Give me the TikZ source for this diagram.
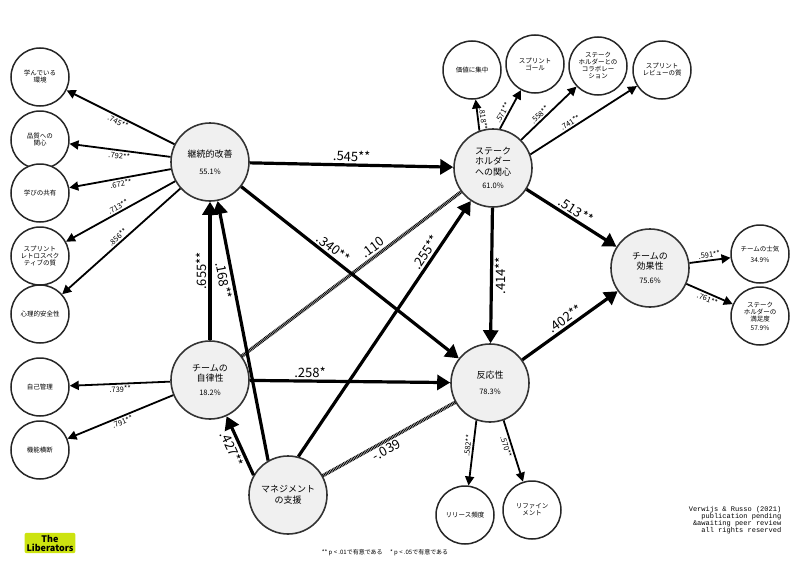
\documentclass[tikz,border=0pt]{standalone}
\usepackage{fontspec}
\setmainfont{Noto Sans CJK JP}
\newfontfamily\monof{Liberation Mono}
\usetikzlibrary{arrows.meta}
\begin{document}
\begin{tikzpicture}[x=1pt,y=-1pt,
 big/.style={circle,draw=black!80,line width=1.6pt,fill=black!6,minimum size=78pt,inner sep=0pt,align=center,font=\fontsize{9}{10.5}\selectfont},
 sm/.style={circle,draw=black!85,line width=1.5pt,fill=white,minimum size=58pt,inner sep=0pt,align=center,font=\fontsize{6.5}{7}\selectfont},
 thin/.style={line width=1.8pt,-{Triangle[length=9pt,width=9pt]}},
 thick/.style={line width=3.2pt,-{Triangle[length=13pt,width=15pt]}},
 dot/.style={line width=3.5pt,dash pattern=on 0.9pt off 0.7pt},
 sl/.style={font=\fontsize{7.5}{7.5}\selectfont,sloped,inner sep=1.5pt},
 bl/.style={font=\fontsize{13}{13}\selectfont,sloped,inner sep=2pt}]
\useasboundingbox (0,0) rectangle (800,562);
\node[big] (ci) at (210,162) {継続的改善\\[6pt]{\fontsize{7.5}{8}\selectfont 55.1\%}};
\node[big] (sh) at (493,168) {ステーク\\ホルダー\\への関心\\[3pt]{\fontsize{7.5}{8}\selectfont 61.0\%}};
\node[big] (te) at (650,268) {チームの\\効果性\\[3pt]{\fontsize{7.5}{8}\selectfont 75.6\%}};
\node[big] (re) at (490,383) {反応性\\[5pt]{\fontsize{7.5}{8}\selectfont 78.3\%}};
\node[big] (ta) at (210,380) {チームの\\自律性\\[3pt]{\fontsize{7.5}{8}\selectfont 18.2\%}};
\node[big] (ms) at (288,495) {マネジメント\\の支援};
\node[sm] (a1) at (40,77) {学んでいる\\環境};
\node[sm] (a2) at (40,140) {品質への\\関心};
\node[sm] (a3) at (40,193) {学びの共有};
\node[sm] (a4) at (40,256) {スプリント\\レトロスペク\\ティブの質};
\node[sm] (a5) at (40,314) {心理的安全性};
\node[sm] (b1) at (40,387) {自己管理};
\node[sm] (b2) at (40,450) {機能横断};
\node[sm] (c1) at (472,70) {価値に集中};
\node[sm] (c2) at (535,64) {スプリント\\ゴール};
\node[sm] (c3) at (598,66) {ステーク\\ホルダーとの\\コラボレー\\ション};
\node[sm] (c4) at (662,70) {スプリント\\レビューの質};
\node[sm] (d1) at (760,254) {チームの士気\\[4pt]34.9\%};
\node[sm] (d2) at (760,316) {ステーク\\ホルダーの\\満足度\\[2pt]57.9\%};
\node[sm] (e1) at (465,515) {リリース頻度};
\node[sm] (e2) at (532,510) {リファイン\\メント};
% small arrows
\draw[thin] (ci) -- node[sl,below]{.745**} (a1);
\draw[thin] (ci) -- node[sl,below]{.792**} (a2);
\draw[thin] (ci) -- node[sl,below]{.672**} (a3);
\draw[thin] (ci) -- node[sl,above]{.713**} (a4);
\draw[thin] (ci) -- node[sl,above]{.856**} (a5);
\draw[thin] (ta) -- node[sl,below]{.739**} (b1);
\draw[thin] (ta) -- node[sl,below]{.791**} (b2);
\draw[thin] (sh.110) -- node[sl,above,pos=0.35]{.818**} (c1);
\draw[thin] (sh.80) -- node[sl,above,pos=0.35]{.571**} (c2);
\draw[thin] (sh.45) -- node[sl,above,pos=0.4]{.558**} (c3);
\draw[thin] (sh.20) -- node[sl,above,pos=0.4]{.741**} (c4);
\draw[thin] (te) -- node[sl,above]{.591**} (d1);
\draw[thin] (te) -- node[sl,below]{.761**} (d2);
\draw[thin] (re.250) -- node[sl,above,pos=0.4]{.582**} (e1);
\draw[thin] (re.290) -- node[sl,below,pos=0.4]{.570**} (e2);
% big arrows
\draw[thick] (ci) -- node[bl,above]{.545**} (sh);
\draw[thick] (ci) -- node[bl,above,pos=0.4]{.340**} (re);
\draw[thick] (sh) -- node[bl,above]{.513**} (te);
\draw[thick] (sh) -- node[bl,below]{.414**} (re);
\draw[thick] (re) -- node[bl,above]{.402**} (te);
\draw[thick] (ta) -- node[bl,above]{.655**} (ci);
\draw[thick] (ta) -- node[bl,above,pos=0.3]{.258*} (re);
\draw[thick] (ms.150) -- node[bl,below,pos=0.5]{.427**} (ta);
\draw[thick] (ms.120) -- node[bl,below,pos=0.7]{.168**} (ci);
\draw[thick] (ms.75) -- node[bl,above,pos=0.78]{.255**} (sh);
\draw[dot] (ta) -- node[bl,above,pos=0.62]{.110} (sh);
\draw[dot] (ms) -- node[bl,below,pos=0.45]{-.039} (re);
\node (fn) at (385,553) {\fontsize{6}{6}\selectfont ** p < .01で有意である\quad\ * p < .05で有意である};
\node[align=right,font=\monof\fontsize{7}{7}\selectfont] (cr) at (735,520) {Verwijs \& Russo (2021)\\publication pending\\\&awaiting peer review\\all rights reserved};
\node[font=\bfseries\fontsize{9}{9}\selectfont,fill=yellow!80!green,rounded corners=2pt,inner sep=2pt,align=center,text=black] (lg) at (50,543) {The\\Liberators};
\end{tikzpicture}
\end{document}
